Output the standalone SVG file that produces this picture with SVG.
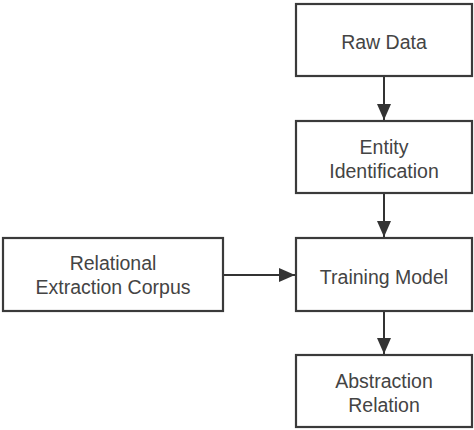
<svg xmlns="http://www.w3.org/2000/svg" width="474" height="430" viewBox="0 0 474 430">
<style>
.box{fill:#fff;stroke:#3a3a3a;stroke-width:2.2}
.t{font-family:"Liberation Sans",Arial,sans-serif;font-size:19.5px;fill:#444;text-anchor:middle}
.c{stroke:#333;stroke-width:2;fill:none}
</style>
<defs>
<marker id="ah" markerWidth="16" markerHeight="14" refX="16" refY="7" orient="auto" markerUnits="userSpaceOnUse" viewBox="0 0 16 14">
<path d="M0,0 L16,7 L0,14 z" fill="#333"/>
</marker>
</defs>
<rect width="474" height="430" fill="#fff"/>
<g id="connectors">
<line class="c" x1="384" y1="77" x2="384" y2="120" marker-end="url(#ah)"/>
<line class="c" x1="384" y1="194" x2="384" y2="237" marker-end="url(#ah)"/>
<line class="c" x1="224" y1="275" x2="295" y2="275" marker-end="url(#ah)"/>
<line class="c" x1="384" y1="312" x2="384" y2="354" marker-end="url(#ah)"/>
</g>
<g id="raw-data">
<rect class="box" x="296" y="4" width="176" height="72"/>
<text class="t" x="384" y="49">Raw Data</text>
</g>
<g id="entity-identification">
<rect class="box" x="296" y="121" width="176" height="72"/>
<text class="t" x="384" y="154">Entity</text>
<text class="t" x="384" y="178">Identification</text>
</g>
<g id="training-model">
<rect class="box" x="296" y="238" width="176" height="73"/>
<text class="t" x="384" y="284">Training Model</text>
</g>
<g id="relational-extraction-corpus">
<rect class="box" x="3" y="238" width="220" height="73"/>
<text class="t" x="113" y="270">Relational</text>
<text class="t" x="113" y="294">Extraction Corpus</text>
</g>
<g id="abstraction-relation">
<rect class="box" x="296" y="355" width="176" height="72"/>
<text class="t" x="384" y="388">Abstraction</text>
<text class="t" x="384" y="412">Relation</text>
</g>
</svg>
